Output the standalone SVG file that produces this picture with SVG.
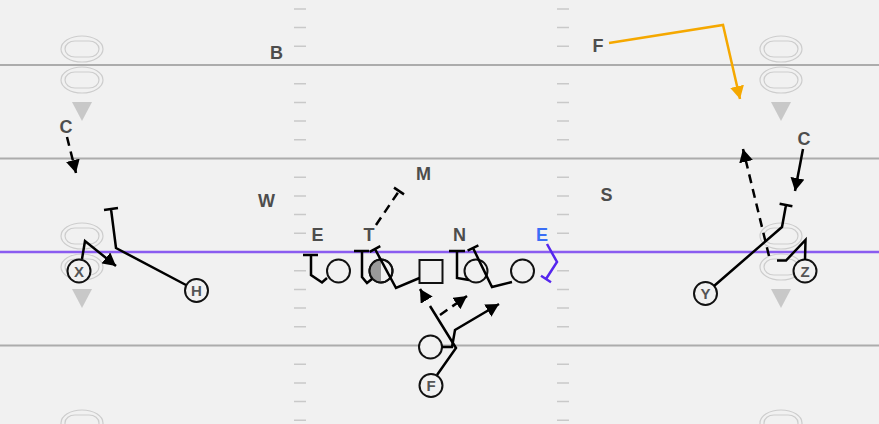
<svg xmlns="http://www.w3.org/2000/svg" width="879" height="424" viewBox="0 0 879 424">
<defs>
<style>
.bg{fill:#f1f1f1}
.yl{stroke:#acacac;stroke-width:2;fill:none}
.los{stroke:#8a5cf0;stroke-width:2.5;fill:none}
.hash{stroke:#c9c9c9;stroke-width:1.5}
.ov{fill:none;stroke:#cdcdcd;stroke-width:1.2}
.tri{fill:#c8c8c8}
.lbl{font-family:"Liberation Sans",Arial,sans-serif;font-weight:bold;font-size:18px;fill:#4d4d4d;text-anchor:middle}
.plbl{font-family:"Liberation Sans",Arial,sans-serif;font-weight:bold;font-size:15px;fill:#555;text-anchor:middle}
.pl{fill:#f1f1f1;stroke:#111;stroke-width:2}
.rt{fill:none;stroke:#000;stroke-width:2.5;stroke-linejoin:miter}
.dash{stroke-dasharray:9 6}
.org{stroke:#f5a800}
.blu{stroke:#5526ee}
</style>
<marker id="ah" viewBox="0 -7 13 14" refX="13" refY="0" markerWidth="13" markerHeight="14" markerUnits="userSpaceOnUse" orient="auto"><path d="M0,-7 L13,0 L0,7 z" fill="#000"/></marker>
<marker id="aho" viewBox="0 -7 13 14" refX="13" refY="0" markerWidth="13" markerHeight="14" markerUnits="userSpaceOnUse" orient="auto"><path d="M0,-7 L13,0 L0,7 z" fill="#f5a800"/></marker>
<g id="numset">
<rect class="ov" x="-21" y="36" width="42" height="26" rx="21" ry="13"/>
<rect class="ov" x="-17" y="41" width="34" height="16" rx="10" ry="8"/>
<rect class="ov" x="-21" y="67" width="42" height="26" rx="21" ry="13"/>
<rect class="ov" x="-17" y="72" width="34" height="16" rx="10" ry="8"/>
<path class="tri" d="M-10,102 L10,102 L0,121 z"/>
</g>
</defs>
<g id="field">
<rect class="bg" x="0" y="0" width="879" height="424"/>
<line class="yl" x1="0" y1="65" x2="879" y2="65"/>
<line class="yl" x1="0" y1="158.5" x2="879" y2="158.5"/>
<line class="yl" x1="0" y1="345.5" x2="879" y2="345.5"/>
<g id="hashes">
<path class="hash" d="M294,8.9h12M294,27.6h12M294,46.3h12M294,83.7h12M294,102.4h12M294,121.1h12M294,139.8h12M294,177.2h12M294,195.9h12M294,214.6h12M294,233.3h12M294,270.7h12M294,289.4h12M294,308.1h12M294,326.8h12M294,364.2h12M294,382.9h12M294,401.6h12M294,420.3h12"/>
<path class="hash" d="M557,8.9h12M557,27.6h12M557,46.3h12M557,83.7h12M557,102.4h12M557,121.1h12M557,139.8h12M557,177.2h12M557,195.9h12M557,214.6h12M557,233.3h12M557,270.7h12M557,289.4h12M557,308.1h12M557,326.8h12M557,364.2h12M557,382.9h12M557,401.6h12M557,420.3h12"/>
</g>
<use href="#numset" x="82" y="0"/>
<use href="#numset" x="82" y="187"/>
<use href="#numset" x="82" y="374"/>
<use href="#numset" x="781" y="0"/>
<use href="#numset" x="781" y="187"/>
<use href="#numset" x="781" y="374"/>
<line class="los" x1="0" y1="252" x2="879" y2="252"/>
</g>
<g id="defense">
<g id="def-B"><text class="lbl" x="276.5" y="59">B</text></g>
<g id="def-W"><text class="lbl" x="266.5" y="207">W</text></g>
<g id="def-M"><text class="lbl" x="423.5" y="180">M</text></g>
<g id="def-S"><text class="lbl" x="606.5" y="201">S</text></g>
<g id="def-F"><text class="lbl" x="598" y="52">F</text></g>
<g id="def-CL"><text class="lbl" x="66" y="133">C</text></g>
<g id="def-CR"><text class="lbl" x="804" y="145">C</text></g>
<g id="def-EL"><text class="lbl" x="317.5" y="241">E</text></g>
<g id="def-T"><text class="lbl" x="369" y="241">T</text></g>
<g id="def-N"><text class="lbl" x="459.5" y="241">N</text></g>
<g id="def-ER"><text class="lbl" x="542" y="241" style="fill:#3a6ef6">E</text></g>
</g>
<g id="offense">
<g id="X"><circle class="pl" cx="79" cy="271" r="11.5"/><text class="plbl" x="79" y="276.5">X</text></g>
<g id="H"><circle class="pl" cx="196.5" cy="290.5" r="11.5"/><text class="plbl" x="196.5" y="296">H</text></g>
<g id="LT"><circle class="pl" cx="338.5" cy="271" r="11.5"/></g>
<g id="LG"><circle class="pl" cx="381" cy="271" r="11.5"/><path d="M381,259.5 A11.5,11.5 0 0 0 381,282.5 z" fill="#9a9a9a"/><circle cx="381" cy="271" r="11.5" fill="none" stroke="#111" stroke-width="2"/></g>
<g id="C"><rect class="pl" x="419.5" y="260" width="23" height="23"/></g>
<g id="RG"><circle class="pl" cx="476" cy="271" r="11.5"/></g>
<g id="RT"><circle class="pl" cx="522.5" cy="271" r="11.5"/></g>
<g id="QB"><circle class="pl" cx="430.5" cy="347" r="11.5"/></g>
<g id="FB"><circle class="pl" cx="431" cy="385.5" r="11.5"/><text class="plbl" x="431" y="391">F</text></g>
<g id="Y"><circle class="pl" cx="705.5" cy="293.5" r="11.5"/><text class="plbl" x="705.5" y="299">Y</text></g>
<g id="Z"><circle class="pl" cx="805" cy="271" r="11.5"/><text class="plbl" x="805" y="276.5">Z</text></g>
</g>
<g id="connectors">
<path class="rt" d="M82,259 L85,241 L116,266" marker-end="url(#ah)"/>
<path class="rt" d="M186,285 L116,248 L111,209 M104,210 L118,208"/>
<path class="rt dash" d="M67,137 L76,173" marker-end="url(#ah)"/>
<path class="rt" d="M327,278 L322,282.5 L311,275 L311,255 M303,255 L318,255"/>
<path class="rt" d="M372,279 L367,283 L362,277 L362,251 M354,251 L369,251"/>
<path class="rt" d="M419.5,278 L396,288 L375,249 M369.7,251.8 L380.3,246.2"/>
<path class="rt" d="M469,280 L457,278 L457,251 M449,251 L465,251"/>
<path class="rt" d="M512,282 L492,287 L473,248 M467.6,250.6 L478.4,245.4"/>
<path class="rt blu" d="M547,244 L557,262 L546,279 M541,275.8 L551,282.2"/>
<path class="rt dash" d="M376,225 L399,191"/>
<path class="rt" d="M394,187.6 L404,194.4"/>
<path class="rt" d="M442,347 L452,347 L455,330 L499,304" marker-end="url(#ah)"/>
<path class="rt" d="M437,375 L456,348 L430,306"/>
<path class="rt" d="M426,299 L420,289" marker-end="url(#ah)"/>
<path class="rt dash" d="M440,315 L467,296" marker-end="url(#ah)"/>
<path class="rt" d="M714,286 L782,227 L786,205 M779.6,203.8 L792.4,206.2"/>
<path class="rt" d="M805,260 L805.5,240 L786,260.5 L777,260.5"/>
<path class="rt dash" d="M769,256 L743,149" marker-end="url(#ah)"/>
<path class="rt" d="M803,149 L795,191" marker-end="url(#ah)"/>
<path class="rt org" d="M609,43 L723,25 L740,99" marker-end="url(#aho)"/>
</g>
</svg>
